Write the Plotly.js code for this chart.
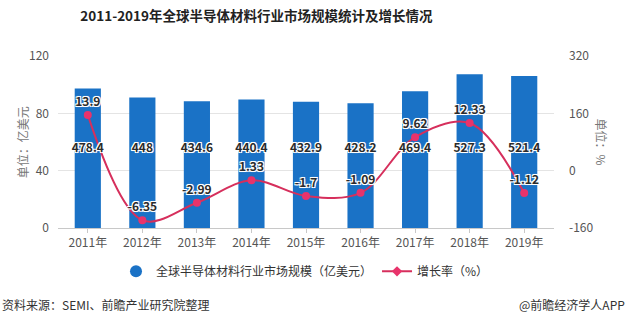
<!DOCTYPE html>
<html>
<head>
<meta charset="utf-8">
<script src="https://cdn.plot.ly/plotly-3.0.1.min.js"></script>
<style>
  html, body { margin: 0; padding: 0; background: #fff; }
  #chart { width: 630px; height: 318px; }
</style>
</head>
<body>
<div id="chart"></div>
<script>
// 全球半导体材料行业市场规模（亿美元）及增长率（%）
const years = ['2011年', '2012年', '2013年', '2014年', '2015年', '2016年', '2017年', '2018年', '2019年'];
const marketSize = [478.4, 448, 434.6, 440.4, 432.9, 428.2, 469.4, 527.3, 521.4];
const growthRate = [13.9, -6.35, -2.99, 1.33, -1.7, -1.09, 9.62, 12.33, -1.12];
const leftTicks = [0, 40, 80, 120];
const rightTicks = [-160, 0, 160, 320];

const FONT = '"Noto Sans CJK SC", "Noto Sans", sans-serif';
const BAR_COLOR = '#1a72c6';
const LINE_COLOR = '#d62f5c';
const MARK_COLOR = '#e8336b';
const halo = '-1px -1px 0 #fff, 1px -1px 0 #fff, -1px 1px 0 #fff, 1px 1px 0 #fff, 0 0 2px #fff';
const labelFont = { family: FONT, size: 12, color: '#2b2b2b', weight: 'bold', shadow: halo };

const traces = [
  {
    type: 'bar', x: years, y: marketSize, yaxis: 'y3',
    marker: { color: BAR_COLOR }, showlegend: false, hoverinfo: 'x+y'
  },
  {
    type: 'scatter', mode: 'lines+markers+text', x: years, y: growthRate, yaxis: 'y4',
    line: { color: LINE_COLOR, width: 2, shape: 'spline', smoothing: 1 },
    marker: { color: MARK_COLOR, size: 8 },
    text: growthRate.map(String), textposition: 'top center',
    textfont: labelFont, showlegend: false, cliponaxis: false
  },
  {
    // value labels for the bars, set on one row across the plot
    type: 'scatter', mode: 'text', x: years, y: years.map(() => 54.9), yaxis: 'y5',
    text: marketSize.map(String), textposition: 'middle center',
    textfont: labelFont, showlegend: false, hoverinfo: 'skip'
  },
  // legend entries
  {
    type: 'scatter', mode: 'markers', x: [null], y: [null],
    name: '全球半导体材料行业市场规模（亿美元）',
    marker: { color: BAR_COLOR, size: 12, symbol: 'circle' }
  },
  {
    type: 'scatter', mode: 'lines+markers', x: [null], y: [null],
    name: '增长率（%）',
    line: { color: LINE_COLOR, width: 2 },
    marker: { color: MARK_COLOR, size: 8, symbol: 'diamond' }
  },
  // keeps the right-hand axis drawn
  { type: 'scatter', x: [years[0]], y: [null], yaxis: 'y2', showlegend: false, hoverinfo: 'skip' }
];

const tickFont = { family: FONT, size: 12, color: '#555' };

const layout = {
  width: 630, height: 318,
  margin: { l: 58, r: 76, t: 56, b: 90 },
  paper_bgcolor: '#fff', plot_bgcolor: '#fff',
  font: { family: FONT, color: '#333' },
  bargap: 0.52,
  title: {
    text: '2011-2019年全球半导体材料行业市场规模统计及增长情况',
    font: { family: FONT, size: 13.5, color: '#222', weight: 'bold' },
    x: 0.407, xanchor: 'center', xref: 'container',
    y: 0.95, yanchor: 'middle', yref: 'container'
  },
  xaxis: {
    type: 'category', tickfont: tickFont,
    showline: true, linecolor: '#c8c8c8', linewidth: 1,
    ticks: 'outside', ticklen: 4, tickcolor: '#c8c8c8',
    showgrid: false, fixedrange: true
  },
  yaxis: {
    range: [0, 120], tickvals: leftTicks, ticktext: leftTicks.map(String),
    tickfont: tickFont, showgrid: true, gridcolor: '#e4e4e4',
    zeroline: false, showline: false, ticks: '', ticklabelstandoff: 8
  },
  yaxis2: {
    overlaying: 'y', side: 'right', range: [-160, 320],
    tickvals: rightTicks, ticktext: rightTicks.map(String),
    tickfont: tickFont, showgrid: false, zeroline: false, showline: false,
    ticks: '', ticklabelstandoff: 14
  },
  yaxis3: { overlaying: 'y', range: [0, 590], visible: false },
  yaxis4: { overlaying: 'y', range: [-7.85, 25.23], visible: false },
  yaxis5: { overlaying: 'y', range: [0, 120], visible: false },
  legend: {
    orientation: 'h', x: 0.498, xanchor: 'center', y: -0.252, yanchor: 'middle',
    font: { family: FONT, size: 12, color: '#333' }, itemwidth: 30
  },
  annotations: [
    {
      text: '单位：亿美元', xref: 'paper', yref: 'paper', x: -0.093, y: 0.5,
      textangle: -90, showarrow: false, font: { family: FONT, size: 12, color: '#777' }
    },
    {
      text: '单位：%', xref: 'paper', yref: 'paper', x: 1.117, y: 0.5,
      textangle: 90, showarrow: false, font: { family: FONT, size: 12, color: '#777' }
    },
    {
      text: '资料来源：SEMI、前瞻产业研究院整理', xref: 'paper', yref: 'paper',
      x: -0.117, y: -0.444, xanchor: 'left', yanchor: 'middle', showarrow: false,
      font: { family: FONT, size: 12, color: '#333' }
    },
    {
      text: '@前瞻经济学人APP', xref: 'paper', yref: 'paper',
      x: 1.147, y: -0.444, xanchor: 'right', yanchor: 'middle', showarrow: false,
      font: { family: FONT, size: 12, color: '#333' }
    }
  ]
};

Plotly.newPlot('chart', traces, layout, { displayModeBar: false, staticPlot: true });
</script>
</body>
</html>
